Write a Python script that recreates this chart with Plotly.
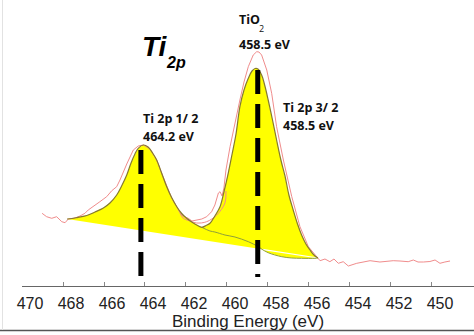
import plotly.graph_objects as go

# ---- data (binding energy in eV, intensity in arbitrary units) ----
raw_energy = [469.02, 468.80, 468.55, 468.31, 468.06, 467.90, 467.74, 467.41, 467.17, 466.93,
              466.77, 466.52, 466.20, 465.87, 465.62, 465.38, 465.22, 464.89, 464.57, 464.33,
              464.08, 463.76, 463.43, 463.19, 462.94, 462.70, 462.45, 462.29, 462.15, 461.89,
              461.71, 461.48, 461.23, 460.99, 460.75, 460.59, 460.49, 460.42, 460.34, 460.24,
              460.15, 460.05, 459.85, 459.61, 459.37, 459.17, 458.96, 458.72, 458.55, 458.44,
              458.31, 458.06, 457.82, 457.58, 457.25, 456.84, 456.44, 456.03, 455.62, 455.46,
              455.22, 454.98, 454.78, 454.57, 454.33, 454.08, 453.67, 453.37, 453.02, 452.54,
              451.89, 451.56, 451.16, 450.91, 450.68, 450.42, 450.10, 449.85, 449.61, 449.37, 449.12]
raw_intensity = [72.7, 69.3, 67.7, 69.3, 64.3, 63.3, 67, 68, 70, 72.7,
                 76, 79.3, 84.3, 89.3, 95.3, 99.3, 106, 122, 136, 140,
                 141, 137, 126, 113, 99.3, 88, 79.3, 73, 70, 67.7,
                 65, 66, 67, 69.3, 74.3, 81, 90, 93, 94.3, 90,
                 98, 116, 139.3, 164, 186, 204, 219.3, 231, 234.3, 234,
                 231, 216, 192.7, 159.3, 126, 89.3, 59.3, 39.3, 28.7, 25.3,
                 27, 24.3, 27, 22.7, 24.3, 20, 22.7, 24, 25.3, 24,
                 25.3, 25, 24.3, 26, 24, 24, 24.5, 26, 22.7, 24, 25]

smooth_energy = [462.29, 462.15, 461.80, 461.48, 460.99, 460.50, 460.10, 460.05]
smooth_intensity = [73, 68, 65, 63, 64.3, 71, 83, 95]

fit_energy = [467.80, 467.56, 467.27, 466.84, 466.44, 466.03, 465.71, 465.38, 465.14, 464.89,
              464.68, 464.49, 464.33, 464.08, 463.85, 463.63, 463.43, 463.19, 462.94, 462.70,
              462.45, 462.21, 461.97, 461.72, 461.48, 461.23, 461.02, 460.83, 460.59, 460.34,
              460.15, 459.94, 459.76, 459.56, 459.37, 459.17, 458.96, 458.78, 458.63, 458.49,
              458.31, 458.15, 457.99, 457.78, 457.58, 457.37, 457.17, 456.98, 456.77, 456.56,
              456.36, 456.15, 455.95, 455.78, 455.62, 455.56]
fit_intensity = [67, 67.5, 68.7, 70.5, 74, 78, 83, 91, 100, 111,
                 123, 132, 137.7, 141, 139, 133, 126, 113, 99.3, 88.5,
                 79.3, 72.5, 67.7, 64, 61, 58.7, 60.5, 62.7, 70, 79.3,
                 94, 112.7, 131, 152, 179.3, 196, 207.7, 215, 217.5, 217,
                 211, 200, 186, 166, 146, 126, 110, 91, 76, 62,
                 51, 42, 36, 31.5, 28.7, 28]

baseline_energy = [467.80, 455.56]
baseline_intensity = [67, 28]

shirley_energy = [461.23, 460.83, 460.59, 460.10, 459.61, 458.96, 458.47, 458.29, 457.99,
                  457.33, 456.84, 456.36, 455.71, 455.56]
shirley_intensity = [58.7, 55, 54, 51, 49, 44.3, 39.3, 36.7, 33.3,
                     29.3, 28, 27.7, 27.7, 28]

# lower edge of the shaded area: straight baseline, then Shirley tail
lower_energy = [467.80, 458.29, 457.99, 457.33, 456.84, 456.36, 455.71, 455.56]
lower_intensity = [67, 36.7, 33.3, 29.3, 28, 27.7, 27.7, 28]

peak_energy = [464.2, 458.5]
peak_top = [136, 216]
peak_bottom = [0, 9]

tick_values = [470, 468, 466, 464, 462, 460, 458, 456, 454, 452, 450]

fig = go.Figure()

# yellow filled envelope
fig.add_trace(go.Scatter(
    x=fit_energy + lower_energy[::-1],
    y=fit_intensity + lower_intensity[::-1],
    fill="toself", fillcolor="#FFFF00", mode="lines",
    line=dict(width=0), hoverinfo="skip", showlegend=False))

# straight baseline drawn white in the tail
fig.add_trace(go.Scatter(x=[lower_energy[1], baseline_energy[1]],
                         y=[lower_intensity[1], baseline_intensity[1]],
                         mode="lines", line=dict(color="white", width=1.2),
                         showlegend=False))

# Shirley-type background
fig.add_trace(go.Scatter(x=shirley_energy, y=shirley_intensity, mode="lines",
                         line=dict(color="#8f9e3a", width=1, shape="spline"),
                         showlegend=False))

# raw spectrum
fig.add_trace(go.Scatter(x=raw_energy, y=raw_intensity, mode="lines",
                         line=dict(color="#f08c8c", width=1), showlegend=False))
fig.add_trace(go.Scatter(x=smooth_energy, y=smooth_intensity, mode="lines",
                         line=dict(color="#f08c8c", width=1, shape="spline"),
                         showlegend=False))

# fit envelope outline
fig.add_trace(go.Scatter(x=fit_energy, y=fit_intensity, mode="lines",
                         line=dict(color="#857a2e", width=1.2, shape="spline"),
                         showlegend=False))

# dashed peak markers
for e, top, bot in zip(peak_energy, peak_top, peak_bottom):
    fig.add_trace(go.Scatter(x=[e, e], y=[top, bot], mode="lines",
                             line=dict(color="black", width=5, dash="24px,10px"),
                             showlegend=False))

L, T, W, H = 22, 0, 452, 286


def px(xp):
    return (xp - L) / W


def py(yp):
    return (H - yp) / H


lab_font = dict(family="'Open Sans', sans-serif", size=12.5, color="#111", weight=700)
ann = []


def add_text(text, x, y, font, **kw):
    ann.append(dict(text=text, x=px(x), y=py(y), xref="paper", yref="paper",
                    xanchor="left", yanchor="middle", showarrow=False,
                    font=font, borderpad=0, **kw))


title_font = dict(family="Liberation Sans, Arial, sans-serif", size=28, color="black")
add_text("<b><i>Ti</i></b>", 141, 46.5, title_font)
add_text("<b><i>2p</i></b>", 165, 62.5, dict(family="Liberation Sans, Arial, sans-serif",
                                             size=16, color="black"))
add_text("Ti 2p 1/ 2", 142, 118.3, lab_font)
add_text("464.2 eV", 142, 136, lab_font)
add_text("TiO", 237.5, 20, lab_font)
add_text("2", 258, 29, dict(family="'Open Sans', sans-serif", size=9, color="#111"))
add_text("458.5 eV", 237.5, 44.3, lab_font)
add_text("Ti 2p 3/ 2", 282, 107.3, lab_font)
add_text("458.5 eV", 282, 125.3, lab_font)

fig.update_layout(
    width=474, height=335,
    margin=dict(l=L, r=0, t=T, b=335 - H),
    paper_bgcolor="white", plot_bgcolor="white",
    showlegend=False,
    annotations=ann,
    shapes=[
        dict(type="line", xref="paper", yref="paper", x0=-L / W, x1=1,
             y0=py(330.5), y1=py(330.5), line=dict(color="#555", width=1.5)),
        dict(type="line", xref="paper", yref="paper", x0=px(2.5), x1=px(2.5),
             y0=py(0), y1=py(330), line=dict(color="#e2e2e2", width=1)),
    ],
    xaxis=dict(range=[470, 447.95], autorange=False, tickvals=tick_values,
               ticks="inside", ticklen=4, tickcolor="#888", tickwidth=1,
               showline=True, linecolor="#666", linewidth=1,
               showgrid=False, zeroline=False,
               ticklabelshift=-8, ticklabelstandoff=3,
               tickfont=dict(family="Liberation Sans, Arial, sans-serif", size=16, color="#222"),
               title=dict(text="Binding Energy (eV)", standoff=2,
                          font=dict(family="Liberation Sans, Arial, sans-serif", size=17,
                                    color="#222")),
               automargin=False),
    yaxis=dict(range=[0, H], autorange=False, visible=False),
)

fig.write_html("out.html")
